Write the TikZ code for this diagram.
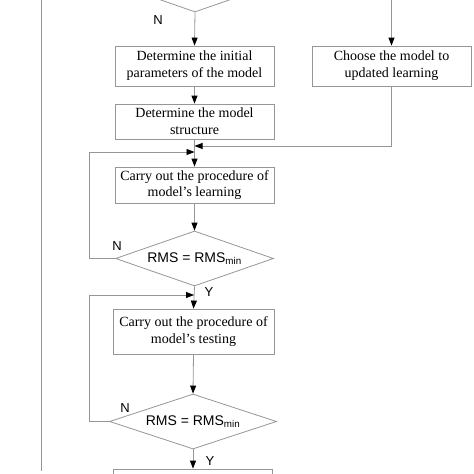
\documentclass[tikz,border=0pt]{standalone}
\usepackage{fontspec}
\setmainfont{Liberation Serif}
\newfontfamily\rmsfont{Liberation Sans}
\usetikzlibrary{shapes.geometric,arrows.meta}
\definecolor{linegray}{RGB}{150,150,150}
\begin{document}
\begin{tikzpicture}[x=1pt,y=-1pt,
  box/.style={draw=linegray,line width=0.8pt,rectangle,align=center,inner sep=0pt,
    minimum width=159pt,font=\fontsize{14}{16.8}\selectfont},
  test/.style={draw=linegray,line width=0.8pt,diamond,aspect=2.9,inner sep=0pt,
    minimum width=158pt,minimum height=55pt,font=\fontsize{14}{16}\rmsfont},
  arr/.style={draw=linegray,line width=0.8pt,-{Triangle[length=8pt,width=6pt,color=black]}},
  line/.style={draw=linegray,line width=0.8pt},
  lab/.style={font=\fontsize{13}{13}\rmsfont}]
\useasboundingbox (0,0) rectangle (474,474);

% left frame line and the link from above
\coordinate (ltop) at (41.5,-5);
\coordinate (lbot) at (41.5,471);
\draw[line] (ltop) -- (lbot);
\coordinate (rtop) at (391.5,-5);

% decision at the top (cut off)
\node[test] (dtop) at (195,-15.5) {};
\node[lab] (ntop) at (158,20) {N};

% boxes
\node[box,minimum height=40pt] (init) at (194.5,66) {Determine the initial\\parameters of the model};
\node[box,minimum height=40pt] (choose) at (391.5,66) {Choose the model to\\updated learning};
\node[box,minimum height=35pt] (struct) at (194.5,121.5) {Determine the model\\structure};
\node[box,minimum height=36pt] (learn) at (194.5,185) {Carry out the procedure of\\model's learning};
\node[test] (dlearn) at (194.5,258.5) {RMS = RMS\textsubscript{min}};
\node[box,minimum width=161pt,minimum height=45pt] (testing) at (193.5,331.5) {Carry out the procedure of\\model's testing};
\node[test,minimum width=167pt] (dtest) at (193,421.5) {RMS = RMS\textsubscript{min}};
\node[box,minimum height=40pt] (final) at (193,489) {};

% labels
\node[lab] (nlearn) at (117,246) {N};
\node[lab] (ylearn) at (209,292) {Y};
\node[lab] (ntest) at (125,408) {N};
\node[lab] (ytest) at (210,461) {Y};

% merge points and loop corners
\coordinate (m1) at (194.5,146);
\coordinate (m2) at (194.5,152);
\coordinate (m3) at (194,295);
\coordinate (l1) at (89,152);
\coordinate (l2) at (89,295);

% connectors
\draw[arr] (dtop.south) -- (init.north);
\draw[arr] (rtop) -- (choose.north);
\draw[arr] (init.south) -- (struct.north);
\draw[arr] (struct.south) -- (learn.north);
\draw[arr] (choose.south) |- (m1);
\draw[arr] (dlearn.west) -| (l1) -- (m2);
\draw[arr] (learn.south) -- (dlearn.north);
\draw[arr] (dlearn.south) -- (testing.north);
\draw[arr] (dtest.west) -| (l2) -- (m3);
\draw[arr] (testing.south) -- (dtest.north);
\draw[arr] (dtest.south) -- (final.north);

\end{tikzpicture}
\end{document}
